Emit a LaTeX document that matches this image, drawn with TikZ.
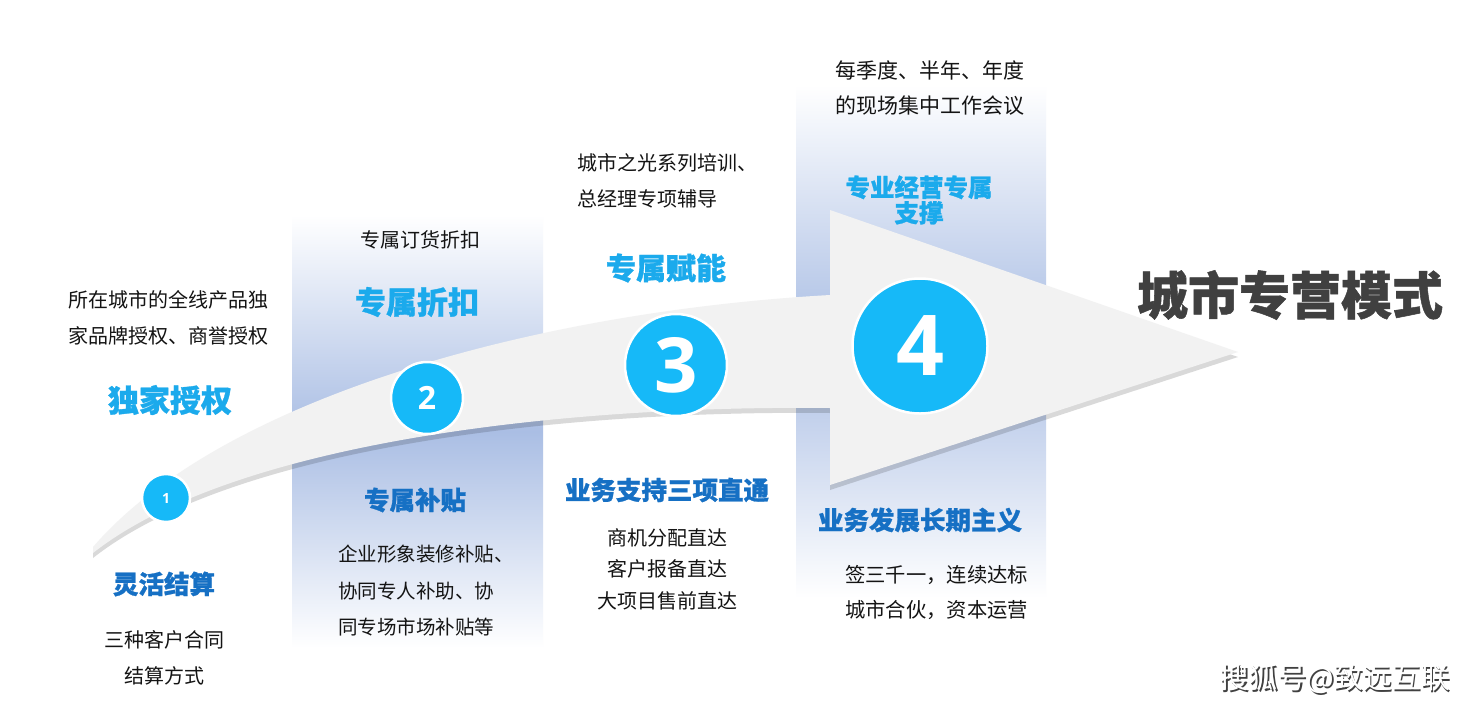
\documentclass[tikz,border=0pt]{standalone}
\usepackage{fontspec}
\setmainfont{Noto Sans CJK SC}
\newfontfamily\heavy{Noto Sans CJK SC}[BoldFeatures={FakeBold=1}]
\newfontfamily\numfont{Open Sans}
\definecolor{cyanT}{RGB}{27,170,236}
\definecolor{blueT}{RGB}{22,112,196}
\definecolor{circ}{RGB}{22,185,248}
\definecolor{colB}{RGB}{170,190,228}
\definecolor{arrowF}{RGB}{242,242,242}
\definecolor{titleG}{RGB}{64,64,64}
\definecolor{bodyT}{RGB}{20,20,20}
\tikzset{
  body/.style={font=\fontsize{20}{36}\selectfont, text=bodyT, inner sep=0pt},
  ttop/.style={font=\heavy\fontsize{31}{36}\selectfont\bfseries, text=cyanT, inner sep=0pt},
  tbot/.style={font=\heavy\fontsize{25.5}{30}\selectfont\bfseries, text=blueT, inner sep=0pt},
  num/.style={circle, fill=circ, draw=white, line width=2.5pt, text=white, inner sep=0pt},
  colshade/.style={top color=white, bottom color=white, middle color=colB, draw=none},
}
\begin{document}
\begin{tikzpicture}[x=1pt,y=-1pt]
\useasboundingbox (0,0) rectangle (1484,710);
\fill[white] (0,0) rectangle (1484,710);
% gradient columns
\shade[colshade] (292,215) rectangle (543,648);
\shade[colshade] (796,85) rectangle (1046,598);
% arrow shadow
\begin{scope}[shift={(0,5)}]
\fill[black, opacity=0.15] (93,547) .. controls (220,400) and (530,312) .. (830,295) -- (830,210) -- (1238,352) -- (830,485) -- (830,408) .. controls (550,405) and (230,445) .. (93,553) -- cycle;
\end{scope}
% arrow
\fill[arrowF] (93,547) .. controls (220,400) and (530,312) .. (830,295) -- (830,210) -- (1238,352) -- (830,485) -- (830,408) .. controls (550,405) and (230,445) .. (93,553) -- cycle;
% circles
\node[num, minimum size=48pt, font=\numfont\bfseries\fontsize{14}{14}\selectfont] (c1) at (166,498) {1};
\node[num, minimum size=72pt, font=\numfont\bfseries\fontsize{32}{32}\selectfont] (c2) at (427,398) {2};
\node[num, minimum size=102pt, font=\numfont\bfseries\fontsize{76}{76}\selectfont] (c3) at (676,365) {3};
\node[num, minimum size=135pt, font=\numfont\bfseries\fontsize{84}{84}\selectfont] (c4) at (920,346) {4};
% column 1
\node[body, align=center] (d1) at (168,318) {所在城市的全线产品独\\家品牌授权、商誉授权};
\node[ttop] (t1) at (170,400) {独家授权};
\node[tbot] (b1) at (164,584) {灵活结算};
\node[body, align=center] (e1) at (164,658) {三种客户合同\\结算方式};
% column 2
\node[body] (d2) at (420,240) {专属订货折扣};
\node[ttop] (t2) at (417,302) {专属折扣};
\node[tbot] (b2) at (415,500) {专属补贴};
\node[body, align=left, anchor=west, font=\fontsize{19.5}{36.5}\selectfont] (e2) at (338,591) {企业形象装修补贴、\\协同专人补助、协\\同专场市场补贴等};
% column 3
\node[body, align=left, anchor=west] (d3) at (577,181) {城市之光系列培训、\\总经理专项辅导};
\node[ttop, font=\heavy\fontsize{30}{36}\selectfont\bfseries] (t3) at (666,268) {专属赋能};
\node[tbot] (b3) at (667,490) {业务支持三项直通};
\node[body, align=center, font=\fontsize{20}{31.5}\selectfont] (e3) at (667,569) {商机分配直达\\客户报备直达\\大项目售前直达};
% column 4
\node[body, align=left, anchor=west, font=\fontsize{21}{35}\selectfont] (d4) at (835,88) {每季度、半年、年度\\的现场集中工作会议};
\node[ttop, align=center, font=\heavy\fontsize{24.5}{25.5}\selectfont\bfseries] (t4) at (919,200) {专业经营专属\\支撑};
\node[tbot] (b4) at (920,520) {业务发展长期主义};
\node[body, align=left, anchor=west, font=\fontsize{20.3}{35}\selectfont] (e4) at (845,592) {签三千一，连续达标\\城市合伙，资本运营};
% main title
\node[inner sep=0pt, text=titleG, font=\heavy\fontsize{51}{51}\selectfont\bfseries] (title) at (1290,295) {城市专营模式};
% watermark
\node[inner sep=0pt, text=black!75, font=\fontsize{29}{29}\selectfont] (wm0) at (1336.5,680.5) {搜狐号@致远互联};
\node[inner sep=0pt, text=white, font=\fontsize{29}{29}\selectfont] (wm) at (1335,679) {搜狐号@致远互联};
\end{tikzpicture}
\end{document}
